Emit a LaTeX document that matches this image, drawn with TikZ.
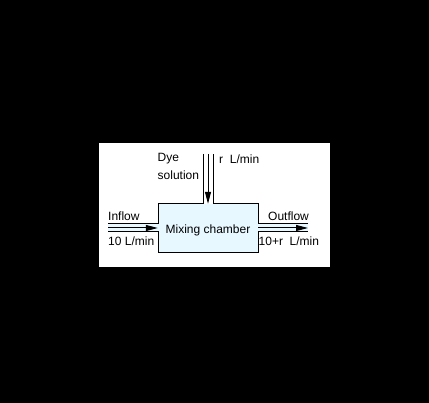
\documentclass[tikz,border=0pt]{standalone}
\usepackage{fontspec}
\setmainfont{Liberation Sans}
\usetikzlibrary{arrows.meta}
\definecolor{chamberfill}{RGB}{232,248,255}
\tikzset{
  lbl/.style={anchor=base west,inner sep=0pt,font=\fontsize{12}{14}\selectfont},
  flowarrow/.style={line width=1pt,-{Triangle[length=12pt,width=6pt]}},
  wall/.style={line width=1pt,line join=miter}
}
\begin{document}
\begin{tikzpicture}[x=1pt,y=-1pt]
\useasboundingbox (0,0) rectangle (429,403);
\fill[black] (0,0) rectangle (429,403);
\fill[white] (98.5,143) rectangle (330,267.5);
% chamber and pipe interiors
\node[fill=chamberfill,draw=none,minimum width=100pt,minimum height=49pt,inner sep=0pt] (chamber) at (208,228.5) {};
\fill[chamberfill] (108,224) rectangle (158,232);
\fill[chamberfill] (258,224) rectangle (308,232);
% coordinates of pipe ends
\coordinate (inL) at (108,228);
\coordinate (outR) at (308,228);
\coordinate (dyeTop) at (208,154);
% walls
\draw[wall] (203,154) -- (203,204) -- (158,204) -- (158,224) -- (108,224);
\draw[wall] (108,232) -- (158,232) -- (158,253) -- (258,253) -- (258,232) -- (308,232);
\draw[wall] (308,224) -- (258,224) -- (258,204) -- (213,204) -- (213,154);
% flow arrows
\draw[flowarrow] (inL) -- (inL -| chamber.west);
\draw[flowarrow] (outR -| chamber.east) -- (outR);
\draw[flowarrow] (dyeTop) -- (chamber.north);
% labels
\node[lbl] (dye) at (157.5,162) {Dye};
\node[lbl] (sol) at (157.5,180) {solution};
\node[lbl] (rrate) at (219,164) {r~ L/min};
\node[lbl] (inflow) at (108,220.5) {Inflow};
\node[lbl] (inrate) at (108,245.5) {10 L/min};
\node[lbl,anchor=base] (mix) at (208,234) {Mixing chamber};
\node[lbl] (outflow) at (268,220.5) {Outflow};
\node[lbl] (outrate) at (258.5,245.5) {10+r~ L/min};
\end{tikzpicture}
\end{document}
